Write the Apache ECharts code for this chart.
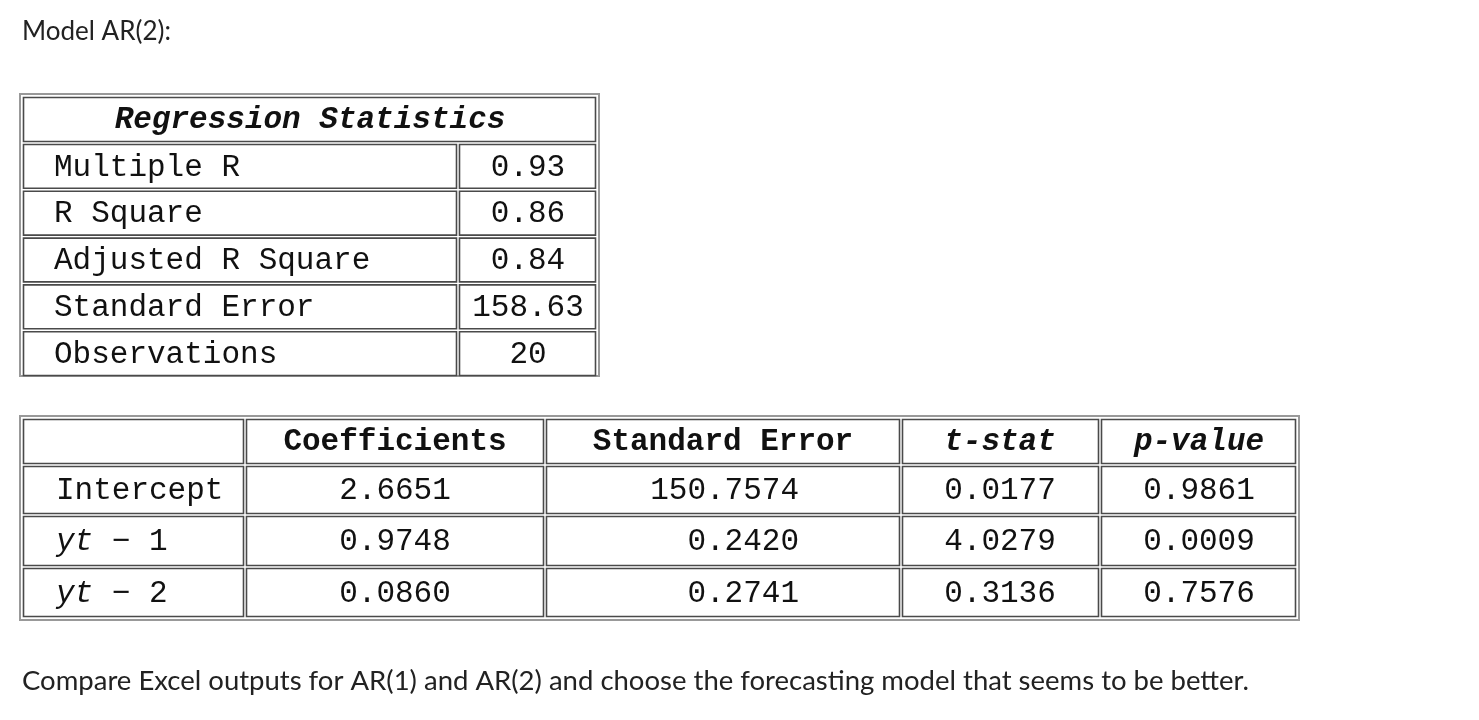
<!DOCTYPE html>
<html><head><meta charset="utf-8">
<script src="https://cdn.jsdelivr.net/npm/echarts@6/dist/echarts.min.js"></script>
<style>html,body{margin:0;background:#fff}#c{width:1479px;height:720px}</style>
</head><body><div id="c"></div>
<script>
const title = "Model AR(2):";
const footer = "Compare Excel outputs for AR(1) and AR(2) and choose the forecasting model that seems to be better.";
const statHeader = "Regression Statistics";
const statLabels = ["Multiple R","R Square","Adjusted R Square","Standard Error","Observations"];
const statValues = ["0.93","0.86","0.84","158.63","20"];
const coefHeaders = ["","Coefficients","Standard Error","t-stat","p-value"];
const rowLabels = ["Intercept","{i|yt} − 1","{i|yt} − 2"];
const coefficients = ["2.6651","0.9748","0.0860"];
const stdErrors = ["150.7574","0.2420","0.2741"];
const tStats = ["0.0177","4.0279","0.3136"];
const pValues = ["0.9861","0.0009","0.7576"];

const MONO = "'Liberation Mono', 'Courier New', monospace";
const FS = 31;
const els = [];
function cell(x,y,w,h){
  els.push({type:'rect',shape:{x:x+1.5,y:y+1.5,width:w-3,height:h-3},style:{fill:'none',stroke:'#4a4a4a',lineWidth:1.6}});
}
function txt(s,x,y,align,opt){
  opt=opt||{};
  els.push({type:'text',x:x,y:y,style:{text:s,font:(opt.style||'')+' '+(opt.weight||'normal')+' '+FS+'px '+MONO,
    fill:'#111',align:align,verticalAlign:'middle',
    rich:{i:{fontFamily:MONO,fontSize:FS,fontStyle:'italic',fill:'#111'}}}});
}
// title/footer
els.push({type:'text',x:22,y:32,style:{text:title,font:'26px Lato, sans-serif',fill:'#222',verticalAlign:'middle'}});
els.push({type:'text',x:22,y:681,style:{text:footer,font:'27.5px Lato, sans-serif',fill:'#222',verticalAlign:'middle'}});

// table 1
const t1x=20,t1y=94,t1w=579,c1=438;
els.push({type:'rect',shape:{x:t1x,y:t1y,width:t1w,height:282},style:{fill:'none',stroke:'#999',lineWidth:2}});
const hH=47, rH=46.8;
cell(t1x+2,t1y+2,t1w-4,hH);
txt(statHeader,t1x+290,t1y+2+hH/2+1,'center',{weight:'bold',style:'italic'});
statLabels.forEach((l,i)=>{
  const y=t1y+2+hH+i*rH;
  cell(t1x+2,y,c1-2,rH); cell(t1x+c1,y,t1w-c1-2,rH);
  txt(l,54,y+rH/2+1,'left');
  txt(statValues[i],528,y+rH/2+1,'center');
});

// table 2
const t2x=20,t2y=416,t2w=1279;
els.push({type:'rect',shape:{x:t2x,y:t2y,width:t2w,height:204},style:{fill:'none',stroke:'#999',lineWidth:2}});
const cols=[22,245,545,901,1100,1297];
const rowsY=[418,465,515,567,618];
const cols2=[coefficients,stdErrors,tStats,pValues];
for(let r=0;r<4;r++){
  for(let c=0;c<5;c++) cell(cols[c],rowsY[r],cols[c+1]-cols[c],rowsY[r+1]-rowsY[r]);
}
const hy=(rowsY[0]+rowsY[1])/2+1;
txt(coefHeaders[1],395,hy,'center',{weight:'bold'});
txt(coefHeaders[2],723,hy,'center',{weight:'bold'});
txt(coefHeaders[3],1000,hy,'center',{weight:'bold',style:'italic'});
txt(coefHeaders[4],1199,hy,'center',{weight:'bold',style:'italic'});
for(let r=0;r<3;r++){
  const y=(rowsY[r+1]+rowsY[r+2])/2+1;
  txt(rowLabels[r],56,y,'left');
  txt(coefficients[r],395,y,'center');
  txt(stdErrors[r],799,y,'right');
  txt(tStats[r],1000,y,'center');
  txt(pValues[r],1199,y,'center');
}
const ch=echarts.init(document.getElementById('c'));
ch.setOption({animation:false,graphic:{elements:els}});
</script></body></html>
